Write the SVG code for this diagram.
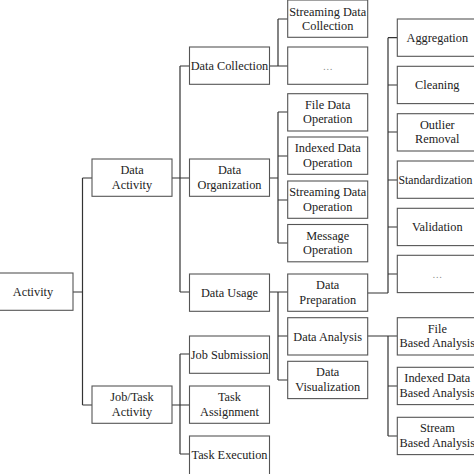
<svg xmlns="http://www.w3.org/2000/svg" width="474" height="474" viewBox="0 0 474 474">
<style>
rect{fill:#fff;stroke:#555;stroke-width:1.1}
text{font-family:"Liberation Serif","Times New Roman",serif;font-size:12.3px;fill:#222;text-anchor:middle}
text.dots{fill:#888;font-size:10px}
.c path{fill:none;stroke:#333;stroke-width:1.2}
</style>
<rect x="0" y="0" width="474" height="474" style="stroke:none"/>
<g class="c" id="connectors">
<path d="M73,292H82.5M82.5,178V405M82.5,178H92M82.5,405H92"/>
<path d="M172,178H189.5M180,66V292M180,66H189.5M180,292H189.5"/>
<path d="M172,405H189.5M180,354V454M180,354H189.5M180,454H189.5"/>
<path d="M269,66H288M278,19V66M278,19H288"/>
<path d="M269,178H278M278,112V243M278,112H288M278,156H288M278,200H288M278,243H288"/>
<path d="M269,292H288M278,292V380M278,336H288M278,380H288"/>
<path d="M367,293H388M388,37.7V293M388,37.7H397M388,85H397M388,132H397M388,180H397M388,227H397M388,274H397"/>
<path d="M367,336H397M388,336V436M388,386H397M388,436H397"/>
</g>
<g id="activity"><rect x="-7" y="273" width="80" height="37.3"/><text x="33" y="296">Activity</text></g>
<g id="data-activity"><rect x="92" y="159" width="80" height="37.3"/><text x="132" y="174">Data</text><text x="132" y="188.5">Activity</text></g>
<g id="jobtask-activity"><rect x="92" y="386" width="80" height="37.3"/><text x="132" y="401">Job/Task</text><text x="132" y="415.5">Activity</text></g>
<g id="data-collection"><rect x="189.5" y="47" width="80" height="37.3"/><text x="229.5" y="70">Data Collection</text></g>
<g id="data-organization"><rect x="189.5" y="159" width="80" height="37.3"/><text x="229.5" y="174">Data</text><text x="229.5" y="188.5">Organization</text></g>
<g id="data-usage"><rect x="189.5" y="274" width="80" height="37.3"/><text x="229.5" y="297">Data Usage</text></g>
<g id="job-submission"><rect x="189.5" y="336" width="80" height="37.3"/><text x="229.5" y="359">Job Submission</text></g>
<g id="task-assignment"><rect x="189.5" y="386" width="80" height="37.3"/><text x="229.5" y="401">Task</text><text x="229.5" y="415.5">Assignment</text></g>
<g id="task-execution"><rect x="189.5" y="436" width="80" height="39"/><text x="229.5" y="459">Task Execution</text></g>
<g id="streaming-data-collection"><rect x="287.7" y="0" width="80" height="37.3"/><text x="327.7" y="15.5">Streaming Data</text><text x="327.7" y="30">Collection</text></g>
<g id="collection-more"><rect x="287.7" y="47" width="80" height="37.3"/><text class="dots" x="327.7" y="70">…</text></g>
<g id="file-data-operation"><rect x="287.7" y="93.7" width="80" height="37.3"/><text x="327.7" y="108.8">File Data</text><text x="327.7" y="123.3">Operation</text></g>
<g id="indexed-data-operation"><rect x="287.7" y="137" width="80" height="37.3"/><text x="327.7" y="152.2">Indexed Data</text><text x="327.7" y="166.7">Operation</text></g>
<g id="streaming-data-operation"><rect x="287.7" y="181" width="80" height="37.3"/><text x="327.7" y="196.2">Streaming Data</text><text x="327.7" y="210.7">Operation</text></g>
<g id="message-operation"><rect x="287.7" y="224.5" width="80" height="37.3"/><text x="327.7" y="239.6">Message</text><text x="327.7" y="254.1">Operation</text></g>
<g id="data-preparation"><rect x="287.7" y="274" width="80" height="37.3"/><text x="327.7" y="289.1">Data</text><text x="327.7" y="303.6">Preparation</text></g>
<g id="data-analysis"><rect x="287.7" y="317.7" width="80" height="37.3"/><text x="327.7" y="340.5">Data Analysis</text></g>
<g id="data-visualization"><rect x="287.7" y="361.3" width="80" height="37.3"/><text x="327.7" y="376.4">Data</text><text x="327.7" y="390.9">Visualization</text></g>
<g id="aggregation"><rect x="397.3" y="19" width="80" height="37.3"/><text x="437.3" y="41.8">Aggregation</text></g>
<g id="cleaning"><rect x="397.3" y="66.3" width="80" height="37.3"/><text x="437.3" y="89.1">Cleaning</text></g>
<g id="outlier-removal"><rect x="397.3" y="113.7" width="80" height="37.3"/><text x="437.3" y="128.8">Outlier</text><text x="437.3" y="143.3">Removal</text></g>
<g id="standardization"><rect x="397.3" y="161" width="80" height="37.3"/><text x="435.5" y="183.8" style="font-size:11.8px">Standardization</text></g>
<g id="validation"><rect x="397.3" y="208.3" width="80" height="37.3"/><text x="437.3" y="231.1">Validation</text></g>
<g id="preparation-more"><rect x="397.3" y="255.3" width="80" height="37.3"/><text class="dots" x="437.3" y="278.1">…</text></g>
<g id="file-based-analysis"><rect x="397.3" y="317.7" width="80" height="37.3"/><text x="437.3" y="332.8">File</text><text x="437.3" y="347.3">Based Analysis</text></g>
<g id="indexed-data-based-analysis"><rect x="397.3" y="367.3" width="80" height="37.3"/><text x="437.3" y="382.4">Indexed Data</text><text x="437.3" y="396.9">Based Analysis</text></g>
<g id="stream-based-analysis"><rect x="397.3" y="417.3" width="80" height="37.3"/><text x="437.3" y="432.4">Stream</text><text x="437.3" y="446.9">Based Analysis</text></g>
</svg>
